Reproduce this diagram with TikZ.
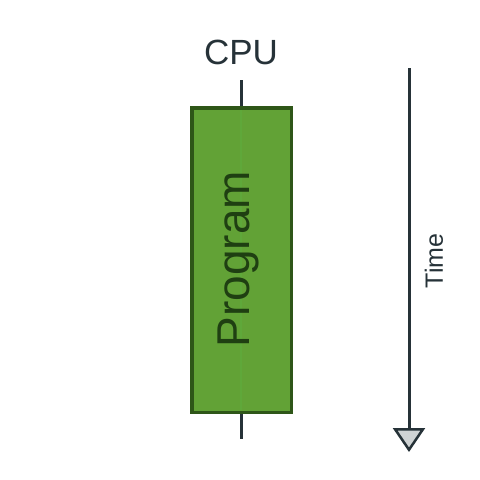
\documentclass[tikz,border=0pt]{standalone}
\usepackage{fontspec}
\setmainfont{Liberation Sans}
\usetikzlibrary{arrows.meta}
\definecolor{lineC}{HTML}{263238}
\definecolor{progFill}{HTML}{62A236}
\definecolor{progDraw}{HTML}{2E5618}
\definecolor{progText}{HTML}{1F3F12}
\definecolor{stripeC}{HTML}{5FA83A}
\definecolor{tipFill}{HTML}{CFD3D4}
\tikzset{
  lane/.style={draw=lineC, line width=3pt},
  progbox/.style={draw=progDraw, fill=progFill, line width=3.5pt},
  timearrow/.style={draw=lineC, line width=3pt, -{Triangle[open, length=24pt, width=32pt, fill=tipFill, line width=2.5pt]}},
}
\begin{document}
\begin{tikzpicture}[x=1pt, y=-1pt]
\useasboundingbox (0,0) rectangle (480,480);
\node[font=\fontsize{35}{40}\selectfont, text=lineC] (cpu) at (241,52) {CPU};
\coordinate (cputop) at (241,80);
\coordinate (cpubot) at (241,439);
\draw[lane] (cputop) -- (cpubot);
\draw[progbox] (191.75,107.75) rectangle (291.25,412.25);
\draw[stripeC, line width=2.5pt] (241,110) -- (241,410);
\node[rotate=90, font=\fontsize{46}{52}\selectfont, text=progText] (prog) at (238.5,259) {Program};
\coordinate (ttop) at (409,68);
\coordinate (tbot) at (409,452);
\draw[timearrow] (ttop) -- (tbot);
\node[rotate=90, font=\fontsize{25}{30}\selectfont, text=lineC] (time) at (434,261) {Time};
\end{tikzpicture}
\end{document}
